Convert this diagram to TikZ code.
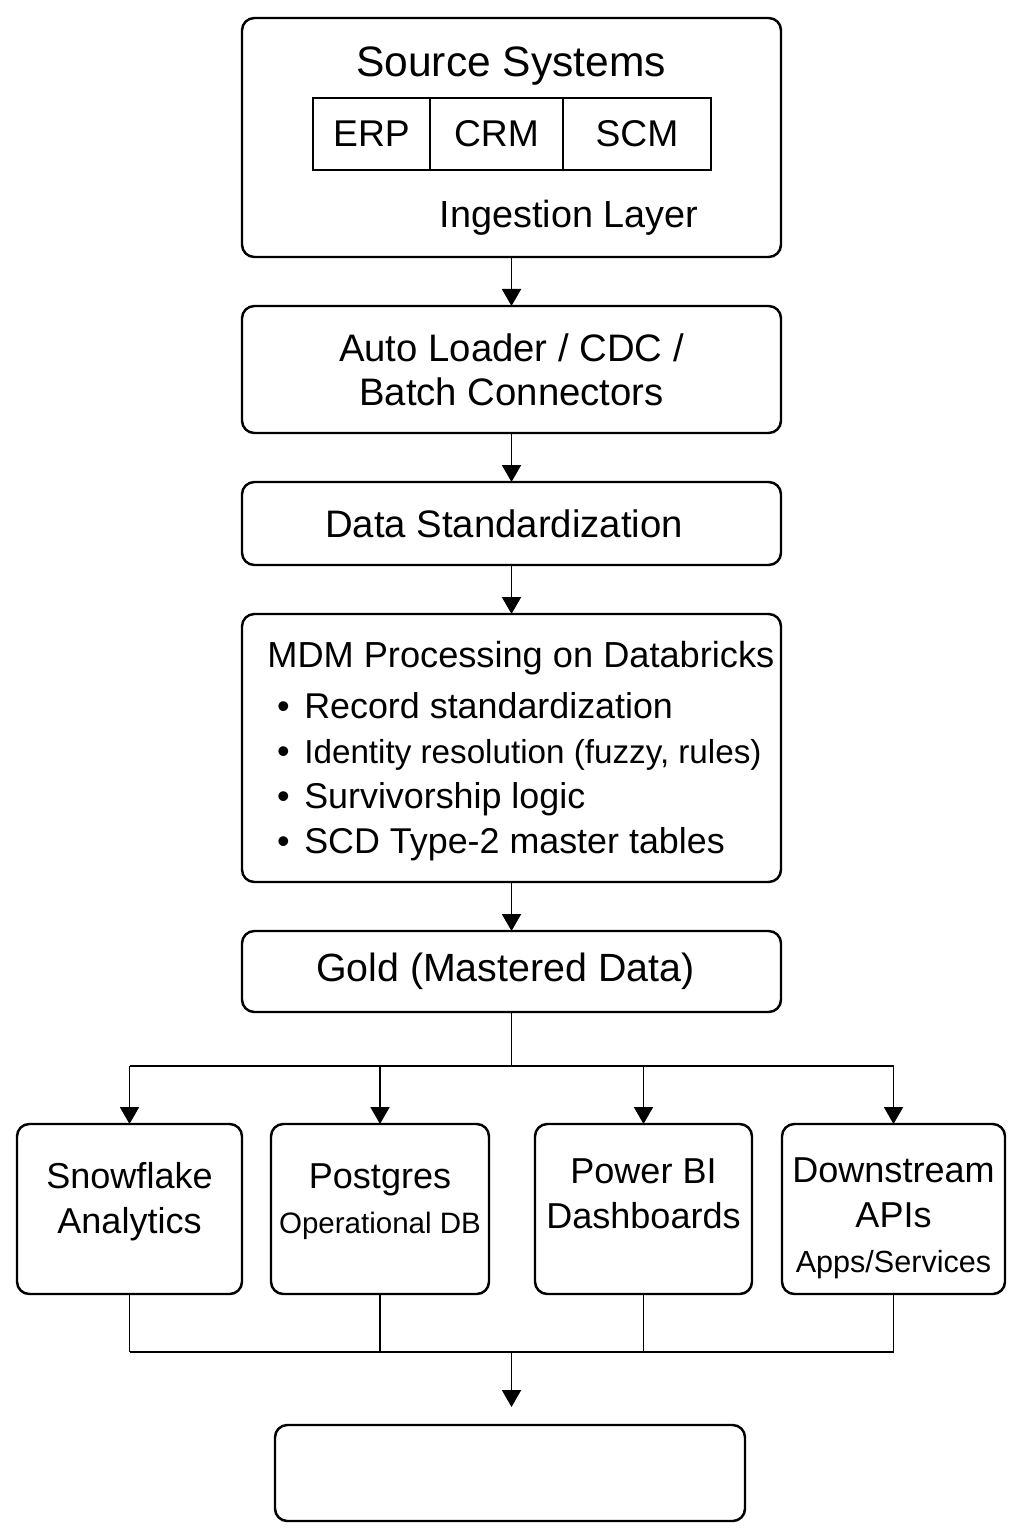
\documentclass[tikz,border=0pt]{standalone}
\usepackage{fontspec}
\setmainfont{Liberation Sans}
\usetikzlibrary{arrows.meta,positioning,calc}

\begin{document}
\begin{tikzpicture}[
  nd/.style={draw, line width=1.4pt, rounded corners=7pt, outer sep=0pt,
             minimum width=10.78cm, align=center,
             font=\fontsize{21.8}{25}\selectfont},
  cell/.style={draw, line width=1.4pt, outer sep=0pt, inner sep=0pt,
               minimum height=1.44cm, font=\fontsize{21.2}{25}\selectfont},
  sink/.style={nd, minimum height=3.4cm},
  sinktxt/.style={align=center, inner sep=0pt, font=\fontsize{20.5}{25.6}\selectfont},
  ar/.style={-{Triangle[length=0.34cm, width=0.38cm]}, line width=1.1pt},
  ln/.style={line width=1.1pt},
  node distance=0.98cm
]
  \useasboundingbox (0,0) rectangle (20.48,-30.72);

  % source + ingestion
  \node[nd, minimum height=4.78cm] (src) at (10.23,-2.75) {};
  \node[anchor=base, font=\fontsize{24.2}{28}\selectfont] (srctitle) at (10.22,-1.54) {Source Systems};
  \node[cell, minimum width=2.34cm] (erp) at (7.43,-2.68) {ERP};
  \node[cell, minimum width=2.66cm, right=0pt of erp] (crm) {CRM};
  \node[cell, minimum width=2.96cm, right=0pt of crm] (scm) {SCM};
  \node[anchor=base, font=\fontsize{21.5}{25}\selectfont] (ingest) at (11.38,-4.56) {Ingestion Layer};

  % main chain
  \node[nd, minimum height=2.54cm, below=of src] (load) {Auto Loader / CDC /\\Batch Connectors};
  \node[nd, minimum height=1.66cm, below=of load] (std) {\hspace*{-0.3cm}Data Standardization};
  \node[nd, minimum height=5.36cm, below=of std] (mdm) {};
  \node[anchor=west, inner sep=0pt, align=left, font=\fontsize{20.4}{25.6}\selectfont]
    (mdmtxt) at ([xshift=0.5cm, yshift=-0.07cm]mdm.west)
    {{\fontsize{20.6}{25.6}\selectfont MDM Processing on Databricks}\\[3.4pt]
     \makebox[0.64cm][c]{\textbullet}\hspace{0.1cm}Record standardization\\
     \makebox[0.64cm][c]{\textbullet}\hspace{0.1cm}{\fontsize{18.9}{25.6}\selectfont Identity resolution (fuzzy, rules)}\\
     \makebox[0.64cm][c]{\textbullet}\hspace{0.1cm}Survivorship logic\\
     \makebox[0.64cm][c]{\textbullet}\hspace{0.1cm}SCD Type-2 master tables};
  \node[nd, minimum height=1.62cm, below=of mdm, font=\fontsize{22.4}{25}\selectfont] (gold)
    {\hspace*{-0.25cm}Gold (Mastered Data)};

  \draw[ar] (src) -- (load);
  \draw[ar] (load) -- (std);
  \draw[ar] (std) -- (mdm);
  \draw[ar] (mdm) -- (gold);

  % consumers
  \node[sink, minimum width=4.5cm] (snow) at (2.59,-24.18) {};
  \node[sink, minimum width=4.36cm] (pg) at (7.6,-24.18) {};
  \node[sink, minimum width=4.34cm] (pbi) at (12.87,-24.18) {};
  \node[sink, minimum width=4.46cm] (apis) at (17.87,-24.18) {};
  \node[sinktxt] (snowtxt) at ([yshift=0.14cm]snow.center) {Snowflake\\Analytics};
  \node[sinktxt] (pgtxt) at ([yshift=0.14cm]pg.center)
    {Postgres\\{\fontsize{16.8}{20}\selectfont Operational DB}};
  \node[sinktxt] (pbitxt) at ([yshift=0.3cm]pbi.center) {Power BI\\Dashboards};
  \node[sinktxt] (apistxt) at ([yshift=-0.18cm]apis.center)
    {Downstream\\APIs\\{\fontsize{17.4}{22}\selectfont Apps/Services}};

  \coordinate (split) at (10.23,-21.32);
  \draw[ln] (gold) -- (split);
  \draw[ln] (split -| snow) -- (split -| apis);
  \foreach \n in {snow,pg,pbi,apis}
    \draw[ar] (split -| \n) -- (\n.north);

  % merge into target
  \node[nd, minimum width=9.4cm, minimum height=1.92cm] (out) at (10.2,-29.46) {};
  \coordinate (join) at (10.23,-27.04);
  \foreach \n in {snow,pg,pbi,apis}
    \draw[ln] (\n.south) -- (join -| \n);
  \draw[ln] (join -| snow) -- (join -| apis);
  \draw[ar, shorten >=0.36cm] (join) -- (join |- out.north);
\end{tikzpicture}
\end{document}
